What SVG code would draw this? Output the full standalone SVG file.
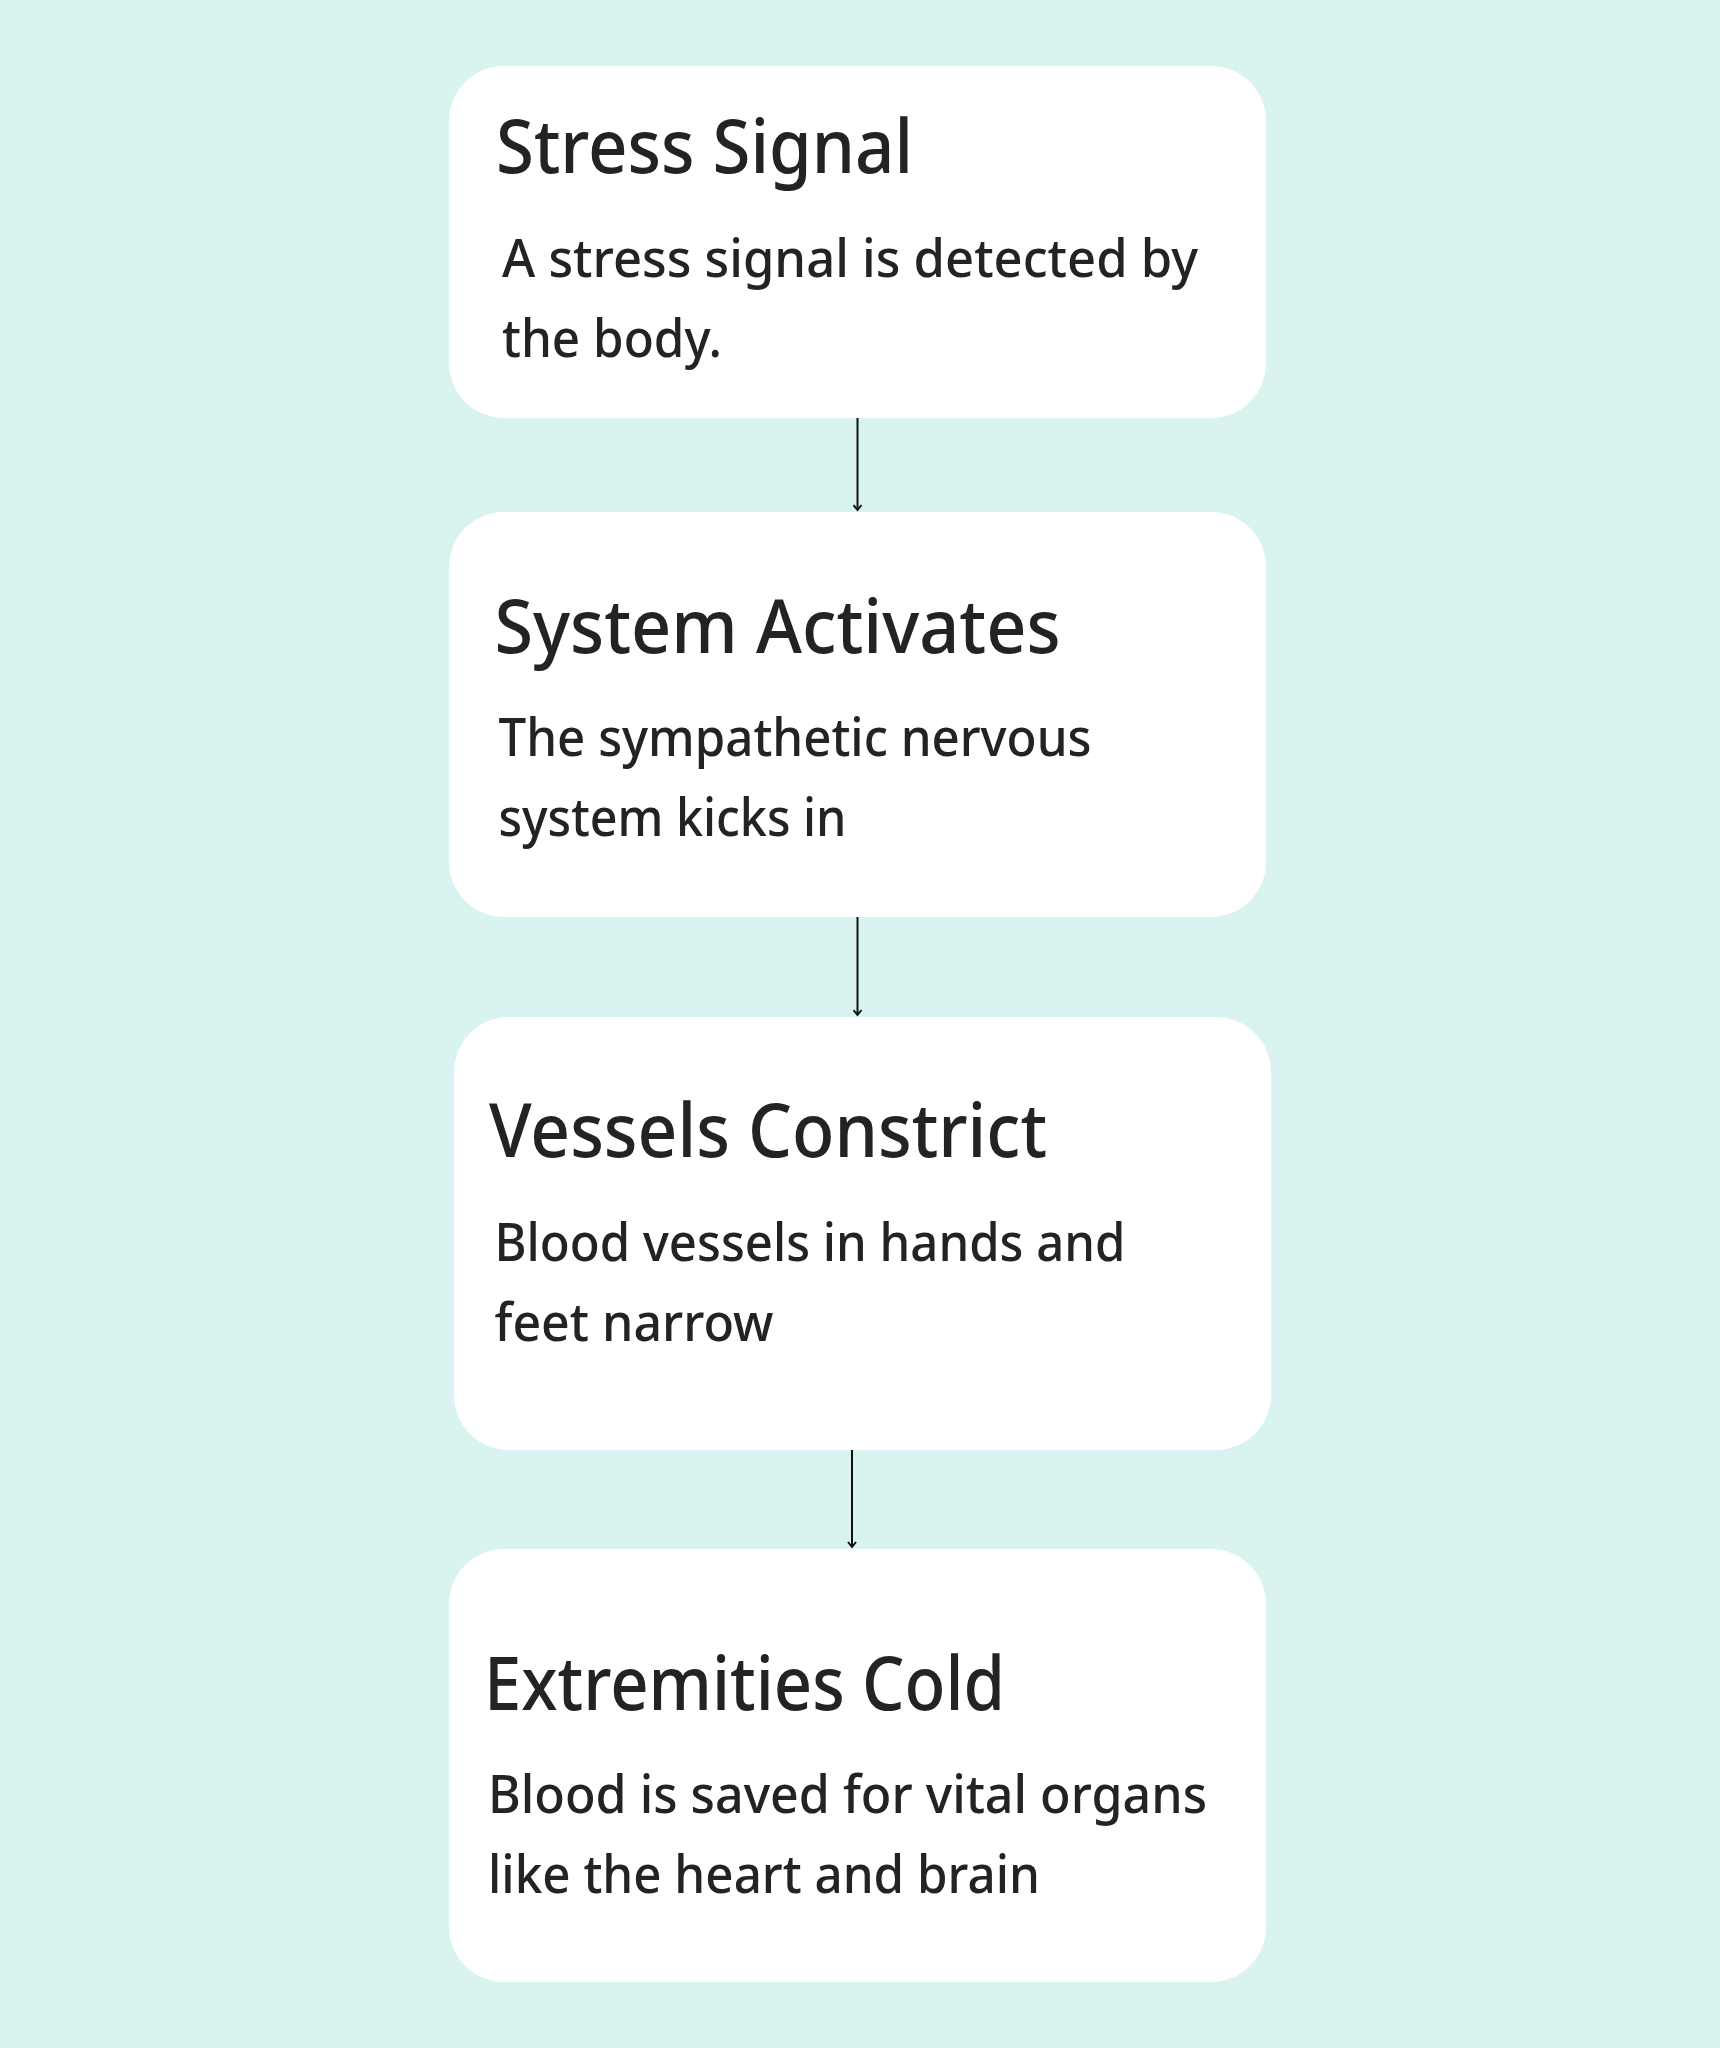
<svg xmlns="http://www.w3.org/2000/svg" width="1720" height="2048" viewBox="0 0 1720 2048">
<style>
.box{fill:#ffffff}
.title{font-family:"Noto Sans","Liberation Sans",sans-serif;font-size:74px;font-weight:500;fill:#232323}
.body{font-family:"Noto Sans","Liberation Sans",sans-serif;font-size:52px;font-weight:500;fill:#232323}
.conn{stroke:#111111;stroke-width:2;fill:none}
</style>
<defs>
<marker id="arr" markerWidth="10" markerHeight="10" refX="7" refY="5" orient="auto" markerUnits="userSpaceOnUse" viewBox="0 0 10 10">
<path d="M2,1 L7,5 L2,9" stroke="#111111" stroke-width="2" fill="none"/>
</marker>
</defs>
<rect width="1720" height="2048" fill="#D9F3F0"/>
<g id="connectors">
<line class="conn" x1="857.5" y1="418" x2="857.5" y2="510" marker-end="url(#arr)"/>
<line class="conn" x1="857.5" y1="917" x2="857.5" y2="1015" marker-end="url(#arr)"/>
<line class="conn" x1="852" y1="1450" x2="852" y2="1547" marker-end="url(#arr)"/>
</g>
<g id="node-stress-signal">
<rect class="box" x="449" y="66" width="817" height="352" rx="55" ry="55"/>
<text class="title" x="496" y="173" textLength="417" lengthAdjust="spacingAndGlyphs">Stress Signal</text>
<text class="body" x="502" y="277" textLength="696" lengthAdjust="spacingAndGlyphs">A stress signal is detected by</text>
<text class="body" x="502" y="357" textLength="220" lengthAdjust="spacingAndGlyphs">the body.</text>
</g>
<g id="node-system-activates">
<rect class="box" x="449" y="512" width="817" height="405" rx="55" ry="55"/>
<text class="title" x="494.5" y="653" textLength="566" lengthAdjust="spacingAndGlyphs">System Activates</text>
<text class="body" x="498.5" y="756" textLength="593" lengthAdjust="spacingAndGlyphs">The sympathetic nervous</text>
<text class="body" x="498.5" y="836" textLength="348" lengthAdjust="spacingAndGlyphs">system kicks in</text>
</g>
<g id="node-vessels-constrict">
<rect class="box" x="454" y="1017" width="817" height="433" rx="55" ry="55"/>
<text class="title" x="489" y="1157" textLength="558" lengthAdjust="spacingAndGlyphs">Vessels Constrict</text>
<text class="body" x="494.5" y="1261" textLength="631" lengthAdjust="spacingAndGlyphs">Blood vessels in hands and</text>
<text class="body" x="494.5" y="1341" textLength="279" lengthAdjust="spacingAndGlyphs">feet narrow</text>
</g>
<g id="node-extremities-cold">
<rect class="box" x="449" y="1549" width="817" height="433" rx="55" ry="55"/>
<text class="title" x="484" y="1710" textLength="521" lengthAdjust="spacingAndGlyphs">Extremities Cold</text>
<text class="body" x="488" y="1813" textLength="719" lengthAdjust="spacingAndGlyphs">Blood is saved for vital organs</text>
<text class="body" x="488" y="1893" textLength="552" lengthAdjust="spacingAndGlyphs">like the heart and brain</text>
</g>
</svg>
